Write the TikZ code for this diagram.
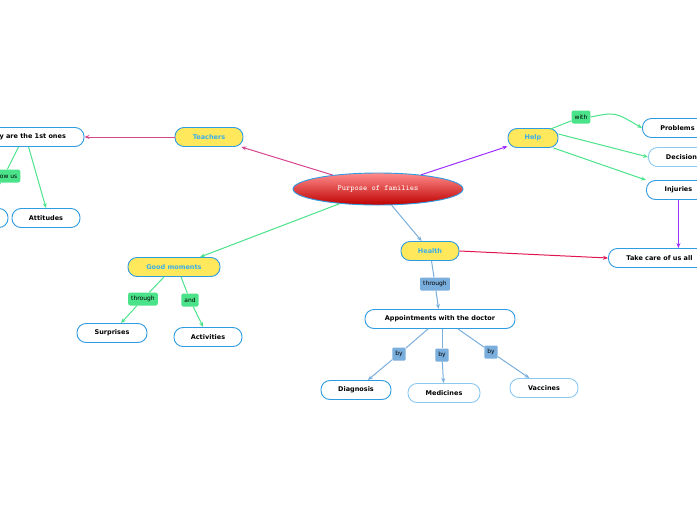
\documentclass[tikz,border=0pt]{standalone}
\usepackage{fontspec}
\setmainfont{DejaVu Sans}
\usetikzlibrary{shapes.geometric,arrows.meta}
\definecolor{bord}{HTML}{2F9BE0}
\definecolor{lbord}{HTML}{8CC8F0}
\definecolor{yel}{HTML}{FFE85C}
\definecolor{gr}{HTML}{4BE38A}
\definecolor{pk}{HTML}{D6458F}
\definecolor{pu}{HTML}{9B30FF}
\definecolor{rd}{HTML}{E0164F}
\definecolor{bl}{HTML}{7AAEDC}
\definecolor{tb}{HTML}{3AAEE8}
\tikzset{
 n/.style={draw=bord,line width=0.9pt,rounded corners=9pt,fill=white,minimum height=19pt,font=\bfseries\fontsize{6.5}{7}\selectfont,inner xsep=6pt},
 m/.style={n,fill=yel,text=tb},
 lg/.style={fill=gr,rounded corners=2pt,font=\fontsize{6}{7}\selectfont,inner sep=3pt,minimum height=13pt},
 lb/.style={fill=bl,rounded corners=1pt,font=\fontsize{6}{7}\selectfont,inner sep=3pt,minimum height=13pt},
 a/.style={-{Stealth[length=5pt,width=4pt]},line width=1pt},
 ln/.style={line width=1pt}
}
\begin{document}
\begin{tikzpicture}[x=1pt,y=-1pt]
\useasboundingbox (0,0) rectangle (697,520);
\clip (0,0) rectangle (697,520);
\node[ellipse,draw=bord,line width=0.9pt,top color=red!45!white,bottom color=red!75!black,minimum width=170pt,minimum height=32pt,text=white,font=\ttfamily\fontsize{8}{9}\selectfont] (c) at (378,189) {Purpose of families};
\node[m,minimum width=68pt] (t) at (209,137) {Teachers};
\node[n,minimum width=116pt] (f) at (26,137) {They are the 1st ones};
\node[lg] (fu) at (4,176) {follow us};
\node[n,minimum width=52pt] (lx) at (-18,218) {};
\node[n,minimum width=68pt] (at) at (46,218) {Attitudes};
\node[m,minimum width=50pt] (h) at (533,138) {Help};
\node[lg] (w) at (581,117) {with};
\node[n,minimum width=70pt,anchor=west] (p) at (642,128) {Problems};
\node[n,draw=lbord,minimum width=70pt,anchor=west] (d) at (648,157) {Decisions};
\node[n,minimum width=64pt,anchor=west] (i) at (646,190) {Injuries};
\node[n,minimum width=102pt,anchor=west] (tc) at (608,258) {Take care of us all};
\node[m,minimum width=58pt] (he) at (430,251) {Health};
\node[lb] (th) at (435,284) {through};
\node[n,minimum width=150pt] (ap) at (440,319) {Appointments with the doctor};
\node[lb] (b1) at (399,354) {by};
\node[lb] (b2) at (442,355) {by};
\node[lb] (b3) at (491,352) {by};
\node[n,minimum width=70pt] (dg) at (356,390) {Diagnosis};
\node[n,draw=lbord,minimum width=72pt] (md) at (444,393) {Medicines};
\node[n,draw=lbord,minimum width=68pt] (vc) at (544,388) {Vaccines};
\node[m,minimum width=92pt] (g) at (174,267) {Good moments};
\node[lg] (gt) at (143,299) {through};
\node[lg] (ga) at (190,300) {and};
\node[n,minimum width=70pt] (s) at (112,333) {Surprises};
\node[n,minimum width=68pt] (ac) at (208,337) {Activities};
\draw[a,pk] (c) -- (t);
\draw[a,pk] (t) -- (f);
\draw[gr,ln] (f.south west)++(51,0) -- (fu);
\draw[a,gr] (fu) -- (lx);
\draw[a,gr] (f.south west)++(61,0) -- (at.north);
\draw[a,pu] (c) -- (h);
\draw[gr,ln] (h.north east)++(-8,1) -- (w);
\draw[a,gr] (w.east) .. controls (615,112) .. (p.west);
\draw[a,gr] (h.east) ++(0,-4) -- (d.west);
\draw[a,gr] (h.south east)++(-5,0) -- (i.north west);
\draw[a,pu] (i.south) -- (i.south|-tc.north);
\draw[a,rd] (he.east) -- (tc.west);
\draw[a,bl] (c) -- (he);
\draw[bl,ln] (he) -- (th);
\draw[a,bl] (th) -- (ap);
\draw[bl,ln] (ap.south) ++(-12,0) -- (b1);
\draw[a,bl] (b1) -- (dg);
\draw[bl,ln] (ap.south) ++(2,0) -- (b2);
\draw[a,bl] (b2) -- (md);
\draw[bl,ln] (ap.south) ++(18,0) -- (b3);
\draw[a,bl] (b3) -- (vc);
\draw[a,gr] (c) -- (g);
\draw[gr,ln] (g.south) ++(-10,0) -- (gt);
\draw[a,gr] (gt) -- (s);
\draw[gr,ln] (g.south) ++(7,0) -- (ga);
\draw[a,gr] (ga) -- (ac);
\end{tikzpicture}
\end{document}
